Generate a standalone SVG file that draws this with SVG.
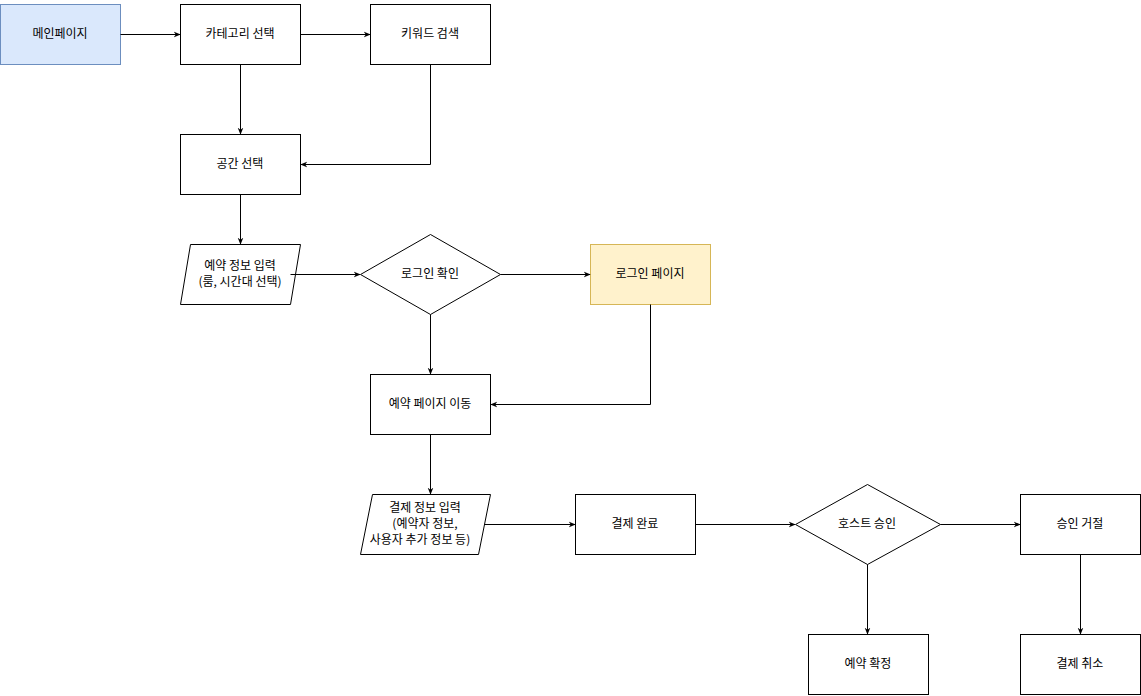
<svg xmlns="http://www.w3.org/2000/svg" width="1141" height="696" viewBox="0 0 1141 696">
<style>
.n{fill:#fff;stroke:#000;stroke-width:1}
.t{font-family:"Noto Sans CJK KR","Liberation Sans",sans-serif;font-size:12px;fill:#000;text-anchor:middle}
.c{fill:none;stroke:#000;stroke-width:1;marker-end:url(#a)}
</style>
<defs><marker id="a" viewBox="0 0 10 10" refX="9" refY="5" markerWidth="7" markerHeight="7" orient="auto"><path d="M0,1 L10,5 L0,9 L3,5 Z" fill="#000"/></marker></defs>
<rect width="1141" height="696" fill="#fff"/>
<g id="main"><rect x="0.5" y="4.5" width="120" height="60" fill="#dae8fc" stroke="#6c8ebf"/><text class="t" x="60" y="38">메인페이지</text></g>
<g id="cat"><rect class="n" x="180.5" y="4.5" width="120" height="60"/><text class="t" x="240" y="38">카테고리 선택</text></g>
<g id="kw"><rect class="n" x="370.5" y="4.5" width="120" height="60"/><text class="t" x="430" y="38">키워드 검색</text></g>
<g id="space"><rect class="n" x="180.5" y="134.5" width="120" height="60"/><text class="t" x="240" y="168">공간 선택</text></g>
<g id="resinfo"><polygon class="n" points="190.5,244.5 300.5,244.5 290.5,304.5 180.5,304.5"/><text class="t" x="240" y="270">예약 정보 입력</text><text class="t" x="240" y="286">(룸, 시간대 선택)</text></g>
<g id="logincheck"><polygon class="n" points="430.5,234.5 500.5,274.5 430.5,314.5 360.5,274.5"/><text class="t" x="430" y="278">로그인 확인</text></g>
<g id="loginpage"><rect x="590.5" y="244.5" width="120" height="60" fill="#fff2cc" stroke="#d6b656"/><text class="t" x="650" y="278">로그인 페이지</text></g>
<g id="respage"><rect class="n" x="370.5" y="374.5" width="120" height="60"/><text class="t" x="430" y="408">예약 페이지 이동</text></g>
<g id="payinfo"><polygon class="n" points="372.5,494.5 490.5,494.5 478.5,554.5 360.5,554.5"/><text class="t" x="425" y="512">결제 정보 입력</text><text class="t" x="425" y="528">(예약자 정보,</text><text class="t" x="420" y="544">사용자 추가 정보 등)</text></g>
<g id="paydone"><rect class="n" x="575.5" y="494.5" width="120" height="60"/><text class="t" x="635" y="528">결제 완료</text></g>
<g id="host"><polygon class="n" points="867.5,484.5 940.5,524.5 867.5,564.5 795.5,524.5"/><text class="t" x="867" y="528">호스트 승인</text></g>
<g id="reject"><rect class="n" x="1020.5" y="494.5" width="120" height="60"/><text class="t" x="1080" y="528">승인 거절</text></g>
<g id="confirm"><rect class="n" x="808.5" y="634.5" width="120" height="60"/><text class="t" x="868" y="668">예약 확정</text></g>
<g id="cancel"><rect class="n" x="1020.5" y="634.5" width="120" height="60"/><text class="t" x="1080" y="668">결제 취소</text></g>
<g id="connectors">
<path class="c" d="M120.5,34.5 H180"/>
<path class="c" d="M300.5,34.5 H370"/>
<path class="c" d="M240.5,64.5 V134"/>
<path class="c" d="M430.5,64.5 V164.5 H301"/>
<path class="c" d="M240.5,194.5 V244"/>
<path class="c" d="M290.5,274.5 H360"/>
<path class="c" d="M500.5,274.5 H590"/>
<path class="c" d="M430.5,314.5 V374"/>
<path class="c" d="M650.5,304.5 V404.5 H491"/>
<path class="c" d="M430.5,434.5 V494"/>
<path class="c" d="M484.5,524.5 H575"/>
<path class="c" d="M695.5,524.5 H795"/>
<path class="c" d="M940.5,524.5 H1020"/>
<path class="c" d="M867.5,564.5 V634"/>
<path class="c" d="M1080.5,554.5 V634"/>
</g>
</svg>
